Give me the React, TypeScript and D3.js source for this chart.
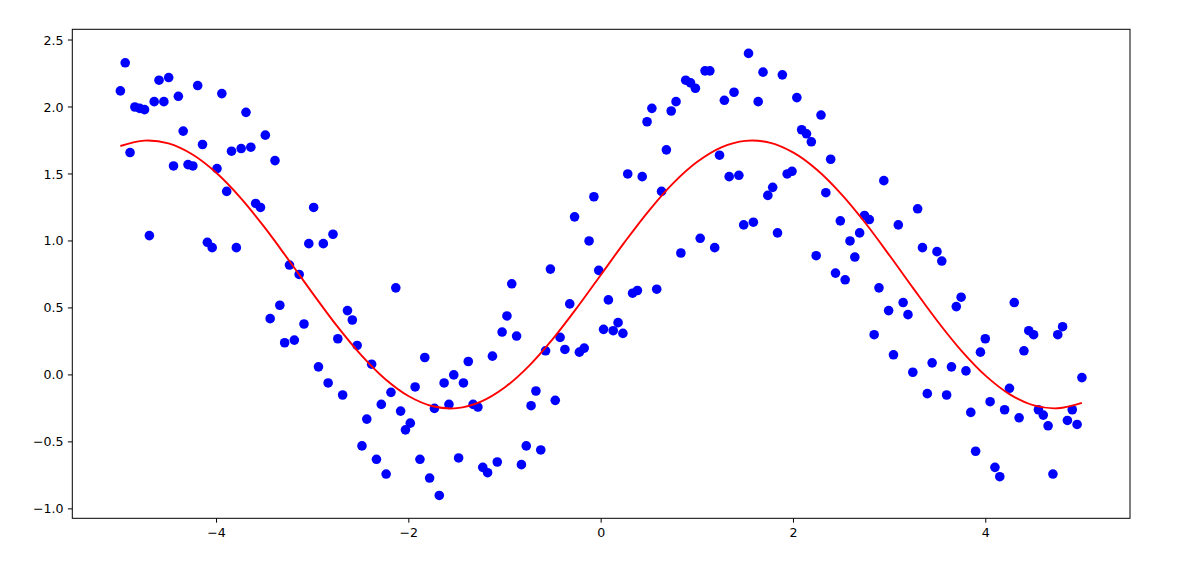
import React from "react";
import * as d3 from "d3";

// Sample count and x-range of the scatter (evenly spaced samples, as in the reference)
const xStart = -5;
const xEnd = 5;

// Scatter y-values, left to right
const yValues: number[] = [
  2.12, 2.33, 1.66, 2.0, 1.99, 1.98, 1.04, 2.04, 2.2, 2.04, 2.22, 1.56, 2.08, 1.82, 1.57, 1.56, 2.16, 1.72, 0.99, 0.95,
  1.54, 2.1, 1.37, 1.67, 0.95, 1.69, 1.96, 1.7, 1.28, 1.25, 1.79, 0.42, 1.6, 0.52, 0.24, 0.82, 0.26, 0.75, 0.38, 0.98,
  1.25, 0.06, 0.98, -0.06, 1.05, 0.27, -0.15, 0.48, 0.41, 0.22, -0.53, -0.33, 0.08, -0.63, -0.22, -0.74, -0.13, 0.65, -0.27, -0.41,
  -0.36, -0.09, -0.63, 0.13, -0.77, -0.25, -0.9, -0.06, -0.22, 0.0, -0.62, -0.06, 0.1, -0.22, -0.24, -0.69, -0.73, 0.14, -0.65, 0.32,
  0.44, 0.68, 0.29, -0.67, -0.53, -0.23, -0.12, -0.56, 0.18, 0.79, -0.19, 0.28, 0.19, 0.53, 1.18, 0.17, 0.2, 1.0, 1.33, 0.78,
  0.34, 0.56, 0.33, 0.39, 0.31, 1.5, 0.61, 0.63, 1.48, 1.89, 1.99, 0.64, 1.37, 1.68, 1.97, 2.04, 0.91, 2.2, 2.18, 2.14,
  1.02, 2.27, 2.27, 0.95, 1.64, 2.05, 1.48, 2.11, 1.49, 1.12, 2.4, 1.14, 2.04, 2.26, 1.34, 1.4, 1.06, 2.24, 1.5, 1.52,
  2.07, 1.83, 1.8, 1.74, 0.89, 1.94, 1.36, 1.61, 0.76, 1.15, 0.71, 1.0, 0.88, 1.06, 1.19, 1.16, 0.3, 0.65, 1.45, 0.48,
  0.15, 1.12, 0.54, 0.45, 0.02, 1.24, 0.95, -0.14, 0.09, 0.92, 0.85, -0.15, 0.06, 0.51, 0.58, 0.03, -0.28, -0.57, 0.17, 0.27,
  -0.2, -0.69, -0.76, -0.26, -0.1, 0.54, -0.32, 0.18, 0.33, 0.3, -0.26, -0.3, -0.38, -0.74, 0.3, 0.36, -0.34, -0.26, -0.37, -0.02,
];

// Red fitted curve, read at x steps of 0.25
const curveX: number[] = [
  -5, -4.75, -4.5, -4.25, -4, -3.75, -3.5, -3.25, -3, -2.75, -2.5, -2.25, -2, -1.75, -1.5, -1.25, -1, -0.75, -0.5, -0.25,
  0, 0.25, 0.5, 0.75, 1, 1.25, 1.5, 1.75, 2, 2.25, 2.5, 2.75, 3, 3.25, 3.5, 3.75, 4, 4.25, 4.5, 4.75, 5,
];
const curveY: number[] = [
  1.709, 1.749, 1.728, 1.645, 1.507, 1.322, 1.101, 0.858, 0.609, 0.368, 0.152, -0.028, -0.159, -0.234, -0.248, -0.199,
  -0.092, 0.068, 0.271, 0.503, 0.75, 0.997, 1.229, 1.432, 1.591, 1.699, 1.747, 1.734, 1.659, 1.528, 1.348, 1.132, 0.891,
  0.642, 0.399, 0.178, -0.007, -0.145, -0.228, -0.249, -0.209,
];

const xTicks = [-4, -2, 0, 2, 4];
const yTicks = [-1.0, -0.5, 0.0, 0.5, 1.0, 1.5, 2.0, 2.5];

const W = 1191;
const H = 570;
const left = 72.3;
const right = 1130;
const top = 29.3;
const bottom = 518.3;

const fmt = (v: number, digits: number) => {
  const s = v.toFixed(digits);
  return s.startsWith("-") ? "\u2212" + s.slice(1) : s;
};

export default function App() {
  const n = yValues.length;
  const xs = d3.range(n).map((i) => xStart + ((xEnd - xStart) * i) / (n - 1));
  const x = d3.scaleLinear().domain([-5.5, 5.5]).range([left, right]);
  const y = d3.scaleLinear().domain([-1.0704, 2.58]).range([bottom, top]);

  const line = d3
    .line<number>()
    .x((_, i) => x(curveX[i]))
    .y((d) => y(d))
    .curve(d3.curveCatmullRom.alpha(0.5));

  const font = "'DejaVu Sans', sans-serif";
  const fs = 12.6;
  const tick = 4.4;

  return (
    <div style={{ position: "absolute", left: 0, top: 0 }}>
      <svg width={W} height={H} style={{ display: "block", background: "#fff" }}>
        <rect x={0} y={0} width={W} height={H} fill="#fff" />
        {yValues.map((v, i) => (
          <circle key={i} cx={x(xs[i])} cy={y(v)} r={4.8} fill="#0000ff" />
        ))}
        <path d={line(curveY) || ""} fill="none" stroke="#ff0000" strokeWidth={1.9} />
        <rect
          x={left}
          y={top}
          width={right - left}
          height={bottom - top}
          fill="none"
          stroke="#000"
          strokeWidth={1}
        />
        {xTicks.map((t) => (
          <g key={"x" + t}>
            <line x1={x(t)} x2={x(t)} y1={bottom} y2={bottom + tick} stroke="#000" strokeWidth={1} />
            <text
              x={x(t)}
              y={bottom + tick + 4.4 + fs * 0.76}
              textAnchor="middle"
              fontFamily={font}
              fontSize={fs}
              fill="#000"
            >
              {fmt(t, 0)}
            </text>
          </g>
        ))}
        {yTicks.map((t) => (
          <g key={"y" + t}>
            <line x1={left - tick} x2={left} y1={y(t)} y2={y(t)} stroke="#000" strokeWidth={1} />
            <text
              x={left - tick - 4.4}
              y={y(t) + fs * 0.36}
              textAnchor="end"
              fontFamily={font}
              fontSize={fs}
              fill="#000"
            >
              {fmt(t, 1)}
            </text>
          </g>
        ))}
      </svg>
    </div>
  );
}
